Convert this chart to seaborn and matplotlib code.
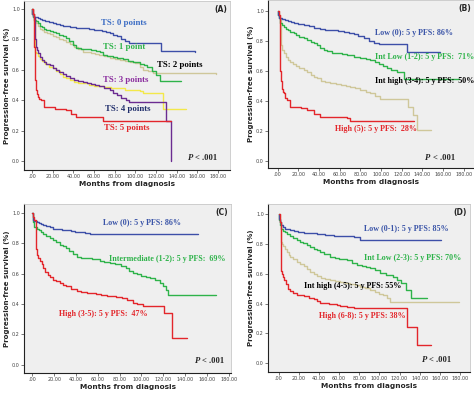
import matplotlib
matplotlib.use("Agg")
import matplotlib.pyplot as plt
import seaborn as sns
import pandas as pd
import numpy as np

sns.set_style("ticks")
plt.rcParams['font.family'] = ['DejaVu Sans']

BLUE   = "#3d4fa8"
GREEN  = "#2eb34a"
TAN    = "#cfc79a"
PURPLE = "#6b2c91"
YELLOW = "#f3e84a"
RED    = "#e3262b"

# ---- panel A : TS points 0..5
a_t0 = [0, 0.5, 1, 2, 4, 6, 8, 10, 13, 16, 20, 23, 27, 30, 33, 37, 40, 43, 46, 50, 55, 60, 65, 68, 72, 75, 78, 82, 86, 90, 94, 125, 158]
a_s0 = [1.0, 0.97, 0.955, 0.95, 0.945, 0.94, 0.935, 0.93, 0.922, 0.915, 0.905, 0.90, 0.895, 0.89, 0.887, 0.883, 0.88, 0.878, 0.875, 0.872, 0.868, 0.865, 0.862, 0.857, 0.85, 0.84, 0.83, 0.82, 0.805, 0.79, 0.775, 0.724, 0.72]
a_t1 = [0, 0.5, 1, 2, 4, 6, 8, 10, 12, 14, 17, 20, 23, 26, 30, 33, 36, 40, 43, 47, 52, 57, 62, 66, 69, 73, 78, 82, 88, 93, 98, 104, 108, 111, 116, 120, 124, 144]
a_s1 = [1.0, 0.97, 0.95, 0.93, 0.92, 0.905, 0.89, 0.88, 0.87, 0.863, 0.855, 0.847, 0.84, 0.83, 0.82, 0.81, 0.79, 0.76, 0.745, 0.74, 0.735, 0.73, 0.725, 0.715, 0.70, 0.69, 0.685, 0.675, 0.668, 0.66, 0.653, 0.64, 0.63, 0.62, 0.59, 0.565, 0.528, 0.528]
a_t2 = [0, 0.5, 1, 2, 4, 6, 8, 10, 12, 15, 17, 20, 23, 26, 30, 33, 37, 41, 45, 49, 53, 57, 61, 65, 70, 75, 80, 85, 90, 95, 100, 104, 107, 112, 117, 178]
a_s2 = [1.0, 0.97, 0.95, 0.92, 0.905, 0.89, 0.87, 0.86, 0.85, 0.84, 0.834, 0.825, 0.815, 0.805, 0.795, 0.786, 0.77, 0.75, 0.735, 0.72, 0.715, 0.71, 0.705, 0.70, 0.69, 0.68, 0.67, 0.664, 0.658, 0.65, 0.642, 0.62, 0.598, 0.59, 0.58, 0.575]
a_t3 = [0, 1, 2, 3, 4, 5, 6, 8, 10, 12, 14, 17, 20, 23, 26, 30, 33, 37, 41, 45, 49, 53, 57, 61, 65, 70, 75, 78, 82, 86, 91, 94, 130, 134]
a_s3 = [1.0, 0.97, 0.95, 0.80, 0.75, 0.73, 0.71, 0.685, 0.665, 0.65, 0.64, 0.63, 0.615, 0.60, 0.585, 0.57, 0.558, 0.545, 0.535, 0.525, 0.52, 0.512, 0.505, 0.497, 0.49, 0.478, 0.466, 0.45, 0.433, 0.415, 0.40, 0.388, 0.265, 0.0]
a_t4 = [0, 1, 2, 3, 4, 6, 8, 10, 13, 16, 20, 23, 27, 30, 33, 37, 41, 45, 49, 55, 60, 65, 70, 76, 82, 90, 97, 104, 107, 127, 149]
a_s4 = [1.0, 0.97, 0.95, 0.72, 0.71, 0.69, 0.67, 0.655, 0.635, 0.62, 0.61, 0.59, 0.57, 0.555, 0.543, 0.53, 0.52, 0.515, 0.51, 0.50, 0.495, 0.49, 0.485, 0.48, 0.477, 0.47, 0.465, 0.46, 0.448, 0.34, 0.34]
a_t5 = [0, 1, 2, 2.5, 3, 4, 5, 6, 7, 9, 12, 22, 27, 33, 38, 43, 65, 69, 134]
a_s5 = [1.0, 0.97, 0.75, 0.60, 0.53, 0.47, 0.44, 0.42, 0.41, 0.40, 0.355, 0.344, 0.34, 0.333, 0.31, 0.289, 0.289, 0.263, 0.263]

# ---- panel B : four risk groups
b_t0 = [0, 0.5, 1, 2, 4, 7, 10, 13, 16, 20, 25, 30, 35, 41, 46, 52, 58, 64, 69, 73.5, 78, 83, 88, 93, 98, 125, 157]
b_s0 = [1.0, 0.97, 0.955, 0.95, 0.945, 0.94, 0.935, 0.928, 0.92, 0.912, 0.906, 0.897, 0.887, 0.877, 0.873, 0.87, 0.866, 0.862, 0.855, 0.846, 0.832, 0.817, 0.80, 0.784, 0.78, 0.724, 0.724]
b_t1 = [0, 0.5, 1, 2, 4, 6, 8, 10, 12, 15.5, 18, 21, 25, 28, 32, 35, 38, 41, 44.5, 48, 52, 57, 62, 67, 73.5, 80, 85, 89.7, 94, 98, 102, 106, 110, 115.5, 122, 175]
b_s1 = [1.0, 0.97, 0.95, 0.92, 0.905, 0.89, 0.88, 0.87, 0.86, 0.85, 0.84, 0.828, 0.817, 0.805, 0.795, 0.785, 0.773, 0.755, 0.74, 0.73, 0.722, 0.717, 0.71, 0.705, 0.695, 0.688, 0.68, 0.673, 0.66, 0.645, 0.63, 0.617, 0.605, 0.595, 0.545, 0.545]
b_t2 = [0, 1, 2, 3, 4, 5.8, 8, 10, 12, 15, 18, 21, 25, 28, 32, 35, 38, 42, 46, 51, 56, 61, 66, 70, 75, 80, 85, 89.7, 94, 99, 126, 131, 135, 148]
b_s2 = [1.0, 0.97, 0.95, 0.77, 0.74, 0.717, 0.69, 0.675, 0.66, 0.645, 0.63, 0.618, 0.606, 0.59, 0.575, 0.562, 0.55, 0.535, 0.525, 0.517, 0.51, 0.505, 0.50, 0.494, 0.485, 0.47, 0.46, 0.45, 0.435, 0.416, 0.36, 0.305, 0.205, 0.205]
b_t3 = [0, 1, 2, 2.5, 3, 4, 5, 5.8, 7, 9, 12, 22, 28, 35, 41, 67, 70, 131.6]
b_s3 = [1.0, 0.97, 0.75, 0.60, 0.53, 0.48, 0.46, 0.45, 0.42, 0.405, 0.36, 0.355, 0.339, 0.316, 0.294, 0.283, 0.267, 0.267]

# ---- panel C : three risk groups
c_t0 = [0, 0.5, 1, 2, 4, 6, 8, 10, 13, 16, 19, 23, 27, 31, 35, 39, 43.5, 48, 52.7, 151.7]
c_s0 = [1.0, 0.97, 0.955, 0.946, 0.94, 0.935, 0.925, 0.918, 0.91, 0.903, 0.896, 0.892, 0.888, 0.885, 0.88, 0.875, 0.87, 0.865, 0.86, 0.86]
c_t1 = [0, 0.5, 1, 2, 4, 6, 8, 10, 13, 16, 19, 22, 25, 28, 31, 34, 37, 40.5, 45, 50, 55, 58.8, 62, 66, 71, 76, 81, 86, 89, 92, 96, 100, 104, 108, 112, 116.6, 120, 122.7, 124, 168]
c_s1 = [1.0, 0.97, 0.94, 0.907, 0.895, 0.885, 0.873, 0.863, 0.85, 0.835, 0.82, 0.805, 0.79, 0.778, 0.766, 0.75, 0.73, 0.71, 0.705, 0.70, 0.697, 0.694, 0.685, 0.677, 0.668, 0.66, 0.648, 0.636, 0.62, 0.603, 0.595, 0.587, 0.58, 0.57, 0.555, 0.538, 0.52, 0.495, 0.462, 0.462]
c_t2 = [0, 1, 2, 3, 4, 5.5, 7, 8.5, 10, 12, 14, 16, 19, 22, 25, 28, 31, 35, 40.5, 45, 50, 55, 58.8, 63, 68, 73, 77, 82, 87, 92, 96, 101, 120.6, 128, 142]
c_s2 = [1.0, 0.97, 0.95, 0.76, 0.722, 0.70, 0.68, 0.66, 0.636, 0.61, 0.59, 0.575, 0.56, 0.548, 0.535, 0.525, 0.516, 0.50, 0.484, 0.478, 0.473, 0.47, 0.466, 0.46, 0.455, 0.45, 0.445, 0.437, 0.425, 0.408, 0.398, 0.39, 0.343, 0.174, 0.174]

# ---- panel D : four risk groups
d_t0 = [0, 0.5, 1, 2, 4, 6, 8, 11.6, 15, 19, 25, 31, 38, 46, 54.7, 65, 75, 81, 160.8]
d_s0 = [1.0, 0.97, 0.95, 0.927, 0.915, 0.905, 0.90, 0.894, 0.888, 0.883, 0.878, 0.872, 0.867, 0.862, 0.856, 0.852, 0.848, 0.827, 0.827]
d_t1 = [0, 0.5, 1, 2, 4, 6, 8, 11, 14, 18, 21, 24, 28, 31, 35, 38, 41, 45, 51, 56, 60, 64.6, 68, 73, 78, 83, 87, 91, 96, 101, 107, 114, 118, 121, 126, 131, 147.5]
d_s1 = [1.0, 0.96, 0.93, 0.90, 0.89, 0.88, 0.87, 0.855, 0.84, 0.827, 0.815, 0.805, 0.794, 0.782, 0.77, 0.76, 0.75, 0.735, 0.716, 0.708, 0.703, 0.70, 0.69, 0.675, 0.66, 0.65, 0.645, 0.64, 0.625, 0.605, 0.59, 0.576, 0.56, 0.54, 0.494, 0.44, 0.44]
d_t2 = [0, 1, 2, 3, 4, 6, 8, 10, 11.6, 14, 18, 21, 25, 28, 31, 35, 38, 42, 46, 51, 56, 61, 66, 71, 76, 81, 86, 91, 96, 100, 104, 108, 111, 179]
d_s2 = [1.0, 0.95, 0.816, 0.80, 0.785, 0.77, 0.75, 0.73, 0.716, 0.70, 0.68, 0.665, 0.65, 0.633, 0.615, 0.60, 0.583, 0.575, 0.567, 0.56, 0.553, 0.545, 0.54, 0.532, 0.525, 0.515, 0.505, 0.494, 0.48, 0.465, 0.455, 0.44, 0.41, 0.41]
d_t3 = [0, 1, 2, 3, 4, 5, 7, 9, 11.6, 14, 18, 21, 25, 30, 35, 38, 41, 50, 58, 61, 68, 74.6, 127.6, 137, 151]
d_s3 = [1.0, 0.95, 0.62, 0.60, 0.58, 0.56, 0.53, 0.50, 0.483, 0.47, 0.46, 0.455, 0.45, 0.44, 0.428, 0.415, 0.405, 0.40, 0.39, 0.384, 0.375, 0.368, 0.244, 0.122, 0.122]

xticks = [0, 20, 40, 60, 80, 100, 120, 140, 160, 180]
xticklabels = [".00", "20.00", "40.00", "60.00", "80.00", "100.00", "120.00", "140.00", "160.00", "180.00"]
yticks = [0.0, 0.2, 0.4, 0.6, 0.8, 1.0]

W, H = 474, 394
fig = plt.figure(figsize=(W / 100, H / 100), dpi=100)


def style_labels(ax):
    ax.set_xlabel("Months from diagnosis", fontsize=5.3, fontweight="bold", labelpad=1.0)
    ax.set_ylabel("Progression-free survival (%)", fontsize=5.0, fontweight="bold", labelpad=1.5)


def make_ax(left, top, right, bottom, xlim, ylim, tag):
    ax = fig.add_axes([left / W, 1 - bottom / H, (right - left) / W, (bottom - top) / H])
    ax.set_facecolor("#efefef")
    ax.set_xlim(*xlim)
    ax.set_ylim(*ylim)
    ax.set_xticks(xticks)
    ax.set_xticklabels(xticklabels)
    ax.set_yticks(yticks)
    ax.set_yticklabels(["%.1f" % v for v in yticks])
    ax.tick_params(labelsize=3.5, length=2, width=0.5, pad=1.0, colors="#444444")
    for s in ["left", "bottom"]:
        ax.spines[s].set_color("#222222")
        ax.spines[s].set_linewidth(0.8)
    for s in ["top", "right"]:
        ax.spines[s].set_color("#c8c8c8")
        ax.spines[s].set_linewidth(0.6)
    ax.text(0.985, 0.975, tag, transform=ax.transAxes, ha="right", va="top",
            fontsize=5.5, fontweight="bold")
    return ax


def km(ax, t, s, color):
    df = pd.DataFrame({"t": t, "s": s})
    sns.lineplot(data=df, x="t", y="s", ax=ax, color=color, lw=1.0,
                 drawstyle="steps-post", estimator=None, sort=False)
    style_labels(ax)


def label(ax, x, y, txt, color, size=6.0):
    ax.text(x, y, txt, color=color, fontsize=size, fontweight="bold",
            family="Liberation Serif", ha="left", va="center")


def pval(ax, x, y):
    ax.text(x, y, "P", fontsize=6.2, fontweight="bold", style="italic",
            family="Liberation Serif", ha="left", va="center")
    ax.annotate("< .001", (x, y), xytext=(5.2, 0), textcoords="offset points",
                fontsize=6.2, fontweight="bold", family="Liberation Serif",
                ha="left", va="center")


# panel A
axA = make_ax(24, 1, 230, 170, (-7.7, 191.5), (-0.06, 1.053), "(A)")
km(axA, a_t2, a_s2, TAN)
km(axA, a_t1, a_s1, GREEN)
km(axA, a_t0, a_s0, BLUE)
km(axA, a_t4, a_s4, YELLOW)
km(axA, a_t3, a_s3, PURPLE)
km(axA, a_t5, a_s5, RED)
label(axA, 67, 0.907, "TS: 0 points", "#3b6cc4", 6.3)
label(axA, 69, 0.748, "TS: 1 point", GREEN, 6.3)
label(axA, 121, 0.63, "TS: 2 points", "black", 6.3)
label(axA, 69, 0.532, "TS: 3 points", "#8a2c9e", 6.3)
label(axA, 71, 0.344, "TS: 4 points", "#1f2d6b", 6.3)
label(axA, 70, 0.219, "TS: 5 points", RED, 6.3)
pval(axA, 151, 0.02)

# panel B
axB = make_ax(268, 0, 474, 168, (-9.5, 190), (-0.047, 1.073), "(B)")
km(axB, b_t2, b_s2, TAN)
km(axB, b_t1, b_s1, GREEN)
km(axB, b_t0, b_s0, BLUE)
km(axB, b_t3, b_s3, RED)
label(axB, 94.5, 0.85, "Low (0): 5 y PFS: 86%", "#3b55a8", 5.8)
label(axB, 94.5, 0.69, "Int Low (1-2): 5 y PFS:  71%", GREEN, 5.8)
label(axB, 94, 0.535, "Int high (3-4): 5 y PFS:  50%", "black", 5.8)
label(axB, 55, 0.21, "High (5): 5 y PFS:  28%", RED, 5.8)
pval(axB, 143, 0.02)

# panel C
axC = make_ax(24, 204, 231, 373, (-7.6, 182), (-0.053, 1.057), "(C)")
km(axC, c_t1, c_s1, GREEN)
km(axC, c_t0, c_s0, BLUE)
km(axC, c_t2, c_s2, RED)
label(axC, 65, 0.935, "Low (0): 5 y PFS: 86%", "#3b55a8", 5.8)
label(axC, 70, 0.696, "Intermediate (1-2): 5 y PFS:  69%", GREEN, 5.8)
label(axC, 24.7, 0.332, "High (3-5): 5 y PFS:  47%", RED, 5.8)
pval(axC, 148.6, 0.024)

# panel D
axD = make_ax(268, 204, 470, 372, (-10.6, 190), (-0.06, 1.07), "(D)")
km(axD, d_t2, d_s2, TAN)
km(axD, d_t1, d_s1, GREEN)
km(axD, d_t0, d_s0, BLUE)
km(axD, d_t3, d_s3, RED)
label(axD, 84.5, 0.905, "Low (0-1): 5 y PFS: 85%", "#3b55a8", 5.8)
label(axD, 84.5, 0.71, "Int Low (2-3): 5 y PFS: 70%", GREEN, 5.8)
label(axD, 24.9, 0.517, "Int high (4-5): 5 y PFS: 55%", "black", 5.8)
label(axD, 39.8, 0.317, "High (6-8): 5 y PFS: 38%", RED, 5.8)
pval(axD, 142.5, 0.018)

fig.savefig("out.png", dpi=100)
